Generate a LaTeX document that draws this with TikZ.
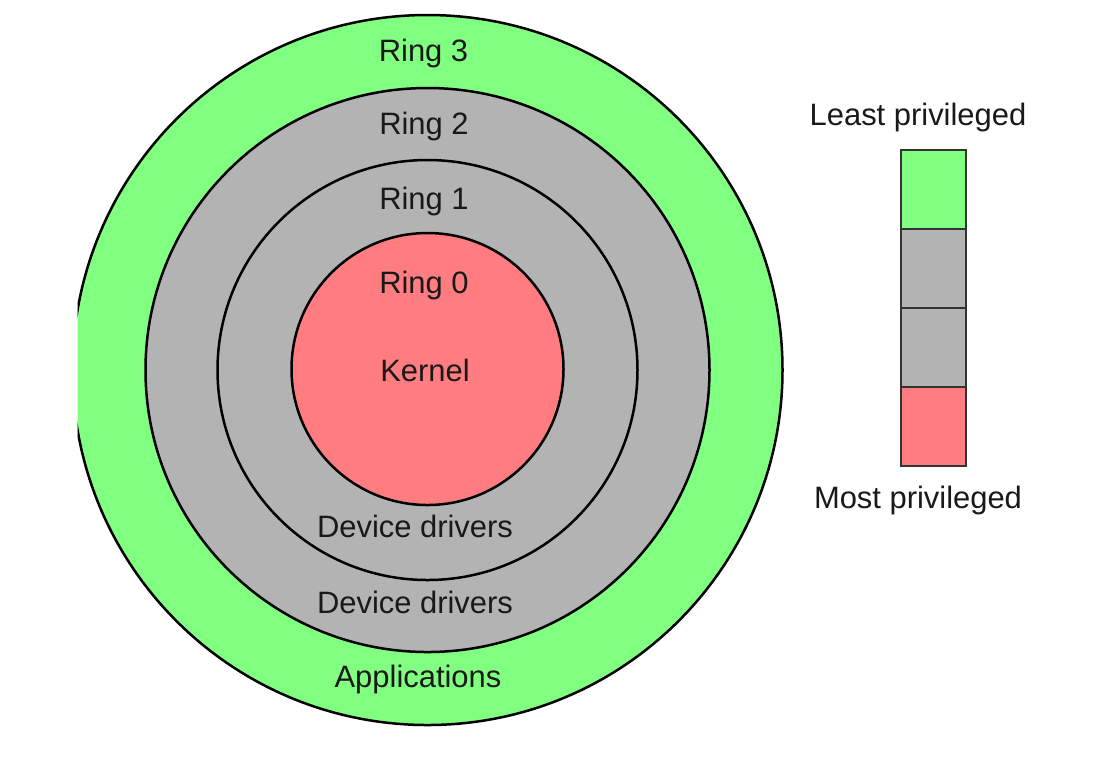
\documentclass[tikz,border=0pt]{standalone}
\usepackage{fontspec}
\setmainfont{Liberation Sans}
\usetikzlibrary{positioning}
\definecolor{ringgreen}{RGB}{128,255,128}
\definecolor{ringgray}{RGB}{179,179,179}
\definecolor{ringred}{RGB}{255,124,128}
\definecolor{boxedge}{RGB}{51,51,51}

\begin{document}
\begin{tikzpicture}[x=0.1mm,y=-0.1mm,
	ringline/.style={draw=black,line width=0.25mm},
	legendbox/.style={draw=boxedge,line width=0.2mm,inner sep=0pt,outer sep=0pt,minimum width=6.5mm,minimum height=7.9mm},
	lbl/.style={anchor=base,inner sep=0pt,text=black!90,font=\fontsize{8.8}{10.5}\selectfont}]
	\useasboundingbox (0,0) rectangle (1116,766);
	% rings, cut off on the left
	\begin{scope}
		\clip (77.5,0) rectangle (1116,766);
		\filldraw[ringline,fill=ringgreen] (427.5,370) circle (355);
		\filldraw[ringline,fill=ringgray] (427.5,370) circle (282);
		\draw[ringline] (427.5,370) circle (210);
		\filldraw[ringline,fill=ringred] (427.5,369) circle (136);
	\end{scope}
	% ring labels
		\node[lbl] (ring3) at (423.5,61) {Ring 3};
		\node[lbl] (ring2) at (424,134) {Ring 2};
		\node[lbl] (ring1) at (424,209) {Ring 1};
		\node[lbl] (ring0) at (424,293) {Ring 0};
		\node[lbl] (kernel) at (425,381) {Kernel};
		\node[lbl] (drv1) at (415,537) {Device drivers};
		\node[lbl] (drv2) at (415,613) {Device drivers};
		\node[lbl] (apps) at (418,687) {Applications};
	% privilege scale
		\node[legendbox,fill=ringgreen] (lp3) at (933.5,189.5) {};
		\node[legendbox,fill=ringgray,below=0pt of lp3] (lp2) {};
		\node[legendbox,fill=ringgray,below=0pt of lp2] (lp1) {};
		\node[legendbox,fill=ringred,below=0pt of lp1] (lp0) {};
		\node[lbl] (least) at (918,125) {Least privileged};
		\node[lbl] (most) at (918,508) {Most privileged};
\end{tikzpicture}
\end{document}
